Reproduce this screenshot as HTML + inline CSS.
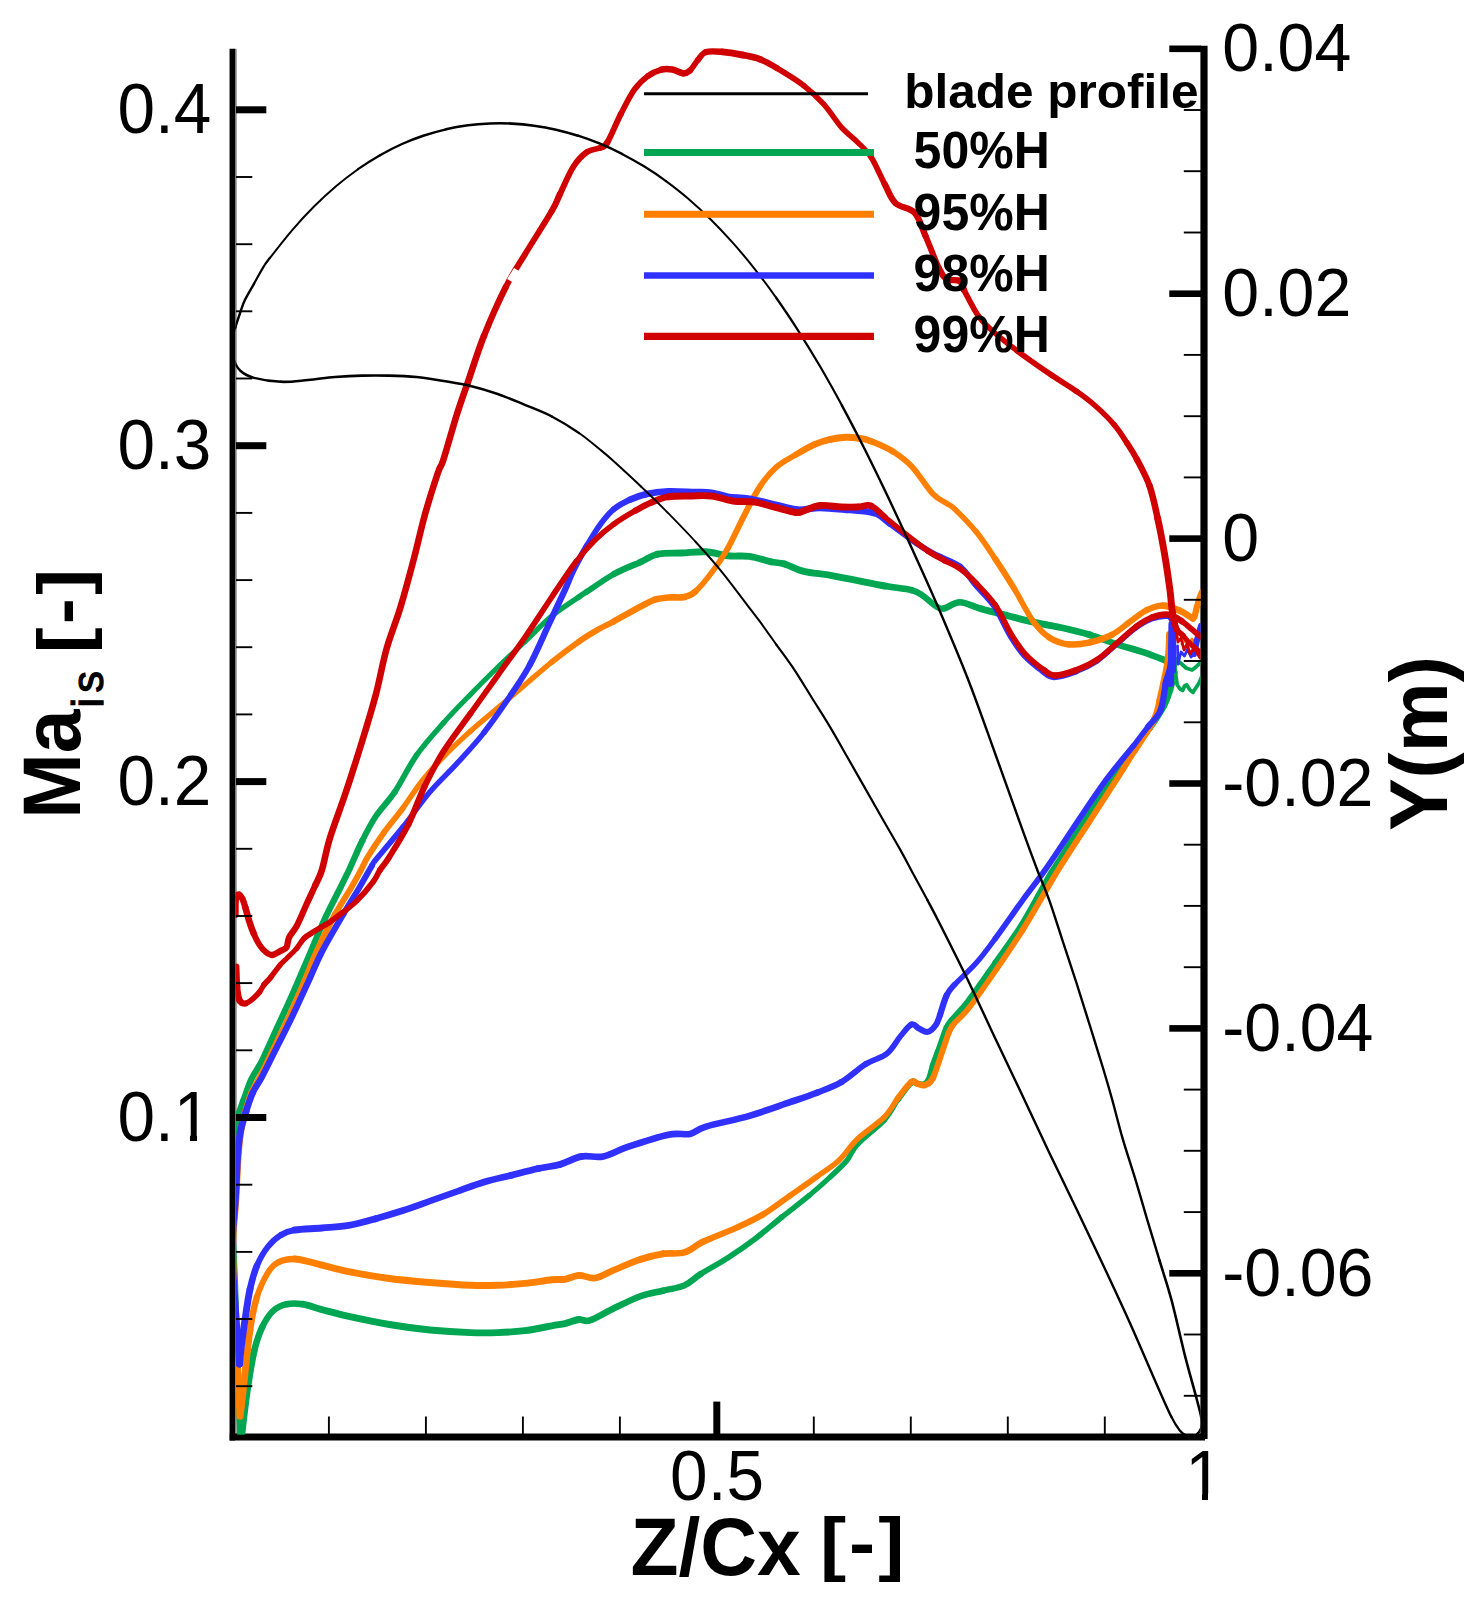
<!DOCTYPE html><html><head><meta charset="utf-8"><title>Isentropic Mach number</title>
<style>html,body{margin:0;padding:0;background:#fff}svg{display:block}text{font-family:"Liberation Sans",Arial,Helvetica,sans-serif;fill:#000}</style></head><body>
<svg width="1478" height="1606" viewBox="0 0 1478 1606">
<rect width="1478" height="1606" fill="#fff"/>
<defs><clipPath id="cp"><rect x="235.4" y="40" width="965.2" height="1394.5"/></clipPath></defs>
<g stroke="#000" fill="none">
<path d="M235.7 48.8V1435.0" stroke-width="2" stroke="#858585"/>
<path d="M232.3 48.8V1440.4" stroke-width="5.5"/>
<path d="M1204.0 45.7V1439.0" stroke-width="7.2"/>
<path d="M229.7 1437.0H1205.0" stroke-width="6.8"/>
</g>
<g clip-path="url(#cp)" fill="none" stroke-linejoin="round" stroke-linecap="round">
<path d="M232.0 1230.0C232.1 1223.3 232.2 1203.3 232.5 1190.0C232.8 1176.7 233.5 1159.9 234.0 1150.0C234.5 1140.1 234.9 1136.1 235.6 1130.6C236.2 1125.1 236.6 1122.0 237.9 1117.0" stroke="#00A651" stroke-width="6.9"/>
<path d="M237.9 1117.0C239.2 1112.0 241.1 1107.2 243.3 1100.9" stroke="#00A651" stroke-width="6.6"/>
<path d="M243.3 1100.9C245.6 1094.6 248.2 1086.0 251.4 1079.2C254.6 1072.4 258.1 1068.4 262.2 1060.3C266.3 1052.2 270.8 1041.3 275.8 1030.5C280.8 1019.7 286.6 1007.5 292.0 995.3C297.4 983.1 302.9 970.0 308.3 957.4C313.7 944.8 319.1 931.2 324.5 919.5C329.9 907.8 336.4 895.6 340.7 887.0C344.9 878.4 346.4 875.8 350.0 868.0C353.6 860.2 358.1 849.1 362.4 840.5" stroke="#00A651" stroke-width="6.3"/>
<path d="M362.4 840.5C366.7 831.9 370.5 824.3 375.9 816.2C381.3 808.1 388.1 801.9 394.9 791.8" stroke="#00A651" stroke-width="6.0"/>
<path d="M394.9 791.8C401.7 781.6 408.4 766.8 416.5 755.3" stroke="#00A651" stroke-width="5.7"/>
<path d="M416.5 755.3C424.6 743.8 434.6 732.9 443.6 722.8" stroke="#00A651" stroke-width="5.4"/>
<path d="M443.6 722.8C452.6 712.6 461.6 703.6 470.6 694.4C479.6 685.1 488.7 676.1 497.7 667.3C506.7 658.5 515.8 650.1 524.8 641.6" stroke="#00A651" stroke-width="5.1"/>
<path d="M524.8 641.6C533.8 633.1 542.8 623.4 551.8 616.0C560.8 608.6 573.0 601.1 578.9 597.0" stroke="#00A651" stroke-width="5.4"/>
<path d="M578.9 597.0C584.8 592.9 581.1 595.4 587.0 591.6" stroke="#00A651" stroke-width="5.7"/>
<path d="M587.0 591.6C592.9 587.8 605.0 579.0 614.0 574.0" stroke="#00A651" stroke-width="6.0"/>
<path d="M614.0 574.0C623.0 569.0 633.8 565.1 641.0 561.8" stroke="#00A651" stroke-width="6.3"/>
<path d="M641.0 561.8C648.2 558.5 650.6 555.7 657.4 554.2" stroke="#00A651" stroke-width="6.6"/>
<path d="M657.4 554.2C664.2 552.7 673.7 553.4 681.8 553.0C689.9 552.6 698.3 551.3 706.0 551.8C713.7 552.3 720.6 555.0 727.8 555.8C735.0 556.6 742.2 555.4 749.4 556.4C756.6 557.4 765.1 560.5 771.0 561.8" stroke="#00A651" stroke-width="6.9"/>
<path d="M771.0 561.8C776.9 563.1 779.2 562.4 784.6 564.0" stroke="#00A651" stroke-width="6.6"/>
<path d="M784.6 564.0C790.0 565.6 795.9 569.4 803.6 571.3C811.3 573.2 821.6 573.7 830.6 575.3C839.6 576.9 848.7 578.9 857.7 580.7C866.7 582.5 875.8 584.4 884.8 586.0" stroke="#00A651" stroke-width="6.9"/>
<path d="M884.8 586.0C893.8 587.6 905.5 588.6 911.8 590.2" stroke="#00A651" stroke-width="6.6"/>
<path d="M911.8 590.2C918.1 591.8 918.6 592.9 922.7 595.6C926.8 598.3 932.6 604.3 936.2 606.4C939.8 608.5 940.3 609.0 944.3 608.3" stroke="#00A651" stroke-width="6.3"/>
<path d="M944.3 608.3C948.3 607.6 953.8 602.1 960.0 602.2C966.2 602.3 973.7 606.7 981.8 609.0" stroke="#00A651" stroke-width="6.6"/>
<path d="M981.8 609.0C989.9 611.3 999.8 613.7 1008.8 616.0C1017.8 618.3 1026.9 620.7 1035.9 622.7C1044.9 624.7 1054.0 626.0 1063.0 628.0C1072.0 630.0 1081.0 632.2 1090.0 634.9" stroke="#00A651" stroke-width="6.9"/>
<path d="M1090.0 634.9C1099.0 637.6 1108.0 641.4 1117.0 644.3C1126.0 647.2 1135.9 649.7 1144.0 652.4C1152.1 655.1 1162.2 659.2 1165.8 660.6" stroke="#00A651" stroke-width="6.6"/>
<path d="M1165.8 660.6L1175.4 659.6" stroke="#00A651" stroke-width="6.4"/>
<path d="M1175.4 659.6L1181.0 663.4L1186.0 668.0L1192.0 670.0L1196.0 667.0L1199.6 663.4L1202.0 660.0" stroke="#00A651" stroke-width="3.8"/>
<path d="M1175.0 662.0L1175.4 672.7L1177.2 684.8L1180.0 689.0L1182.8 690.4L1184.5 686.0L1186.6 684.8L1190.0 690.0L1193.0 692.3L1196.5 687.0L1199.6 682.0L1202.0 676.0" stroke="#00A651" stroke-width="3.8"/>
<path d="M1174.4 672.7C1173.7 675.6 1171.7 684.5 1170.0 690.0" stroke="#00A651" stroke-width="6.6"/>
<path d="M1170.0 690.0C1168.3 695.5 1167.3 699.7 1164.0 706.0" stroke="#00A651" stroke-width="6.3"/>
<path d="M1164.0 706.0C1160.7 712.3 1155.2 720.6 1150.0 728.0" stroke="#00A651" stroke-width="6.0"/>
<path d="M1150.0 728.0C1144.8 735.4 1139.4 741.7 1133.0 750.5C1126.6 759.3 1119.9 769.1 1111.7 781.0C1103.5 792.9 1093.4 807.4 1084.0 821.6" stroke="#00A651" stroke-width="5.7"/>
<path d="M1084.0 821.6C1074.6 835.8 1061.6 856.4 1055.5 866.0C1049.4 875.6 1053.0 869.4 1047.5 879.0C1042.0 888.6 1031.1 909.6 1022.4 923.6C1013.7 937.6 1004.3 949.9 995.3 962.8" stroke="#00A651" stroke-width="6.0"/>
<path d="M995.3 962.8C986.3 975.6 975.5 991.2 968.3 1000.7C961.1 1010.2 955.6 1015.2 952.0 1019.7" stroke="#00A651" stroke-width="5.7"/>
<path d="M952.0 1019.7C948.4 1024.2 948.9 1022.4 946.6 1027.8" stroke="#00A651" stroke-width="6.0"/>
<path d="M946.6 1027.8C944.3 1033.2 940.3 1045.7 938.0 1052.0" stroke="#00A651" stroke-width="6.3"/>
<path d="M938.0 1052.0C935.7 1058.3 934.5 1061.2 933.0 1065.7" stroke="#00A651" stroke-width="6.6"/>
<path d="M933.0 1065.7C931.5 1070.2 930.5 1075.9 929.0 1079.0C927.5 1082.1 926.0 1083.8 924.0 1084.5C922.0 1085.2 919.1 1083.8 917.0 1083.5C914.9 1083.2 914.6 1079.8 911.4 1082.5" stroke="#00A651" stroke-width="6.3"/>
<path d="M911.4 1082.5C908.2 1085.2 902.4 1093.3 897.9 1099.5" stroke="#00A651" stroke-width="6.0"/>
<path d="M897.9 1099.5C893.4 1105.7 891.1 1112.4 884.4 1119.8" stroke="#00A651" stroke-width="5.4"/>
<path d="M884.4 1119.8C877.7 1127.2 864.0 1137.2 857.7 1144.0" stroke="#00A651" stroke-width="5.7"/>
<path d="M857.7 1144.0C851.5 1150.8 851.4 1155.0 846.9 1160.4C842.4 1165.8 836.9 1170.7 830.6 1176.6" stroke="#00A651" stroke-width="5.4"/>
<path d="M830.6 1176.6C824.3 1182.5 817.1 1188.9 809.0 1195.6" stroke="#00A651" stroke-width="5.1"/>
<path d="M809.0 1195.6C800.9 1202.3 791.0 1209.8 782.0 1217.0" stroke="#00A651" stroke-width="5.4"/>
<path d="M782.0 1217.0C773.0 1224.2 763.9 1232.1 754.9 1238.9C745.9 1245.7 736.8 1252.0 727.8 1257.8C718.8 1263.6 707.9 1269.4 700.7 1274.0" stroke="#00A651" stroke-width="5.7"/>
<path d="M700.7 1274.0C693.5 1278.6 690.8 1282.5 684.5 1285.3C678.2 1288.1 670.0 1288.9 662.8 1290.7" stroke="#00A651" stroke-width="6.3"/>
<path d="M662.8 1290.7C655.5 1292.5 649.1 1293.1 641.0 1296.0C632.9 1298.9 622.5 1304.2 614.0 1308.3C605.5 1312.4 595.6 1318.5 589.8 1320.4C583.9 1322.3 583.0 1319.0 578.9 1319.5" stroke="#00A651" stroke-width="6.6"/>
<path d="M578.9 1319.5C574.8 1320.0 569.5 1322.5 565.0 1323.6C560.5 1324.6 558.5 1324.6 551.8 1325.8C545.1 1327.0 533.8 1329.6 524.8 1330.7C515.8 1331.8 506.7 1332.3 497.7 1332.6C488.7 1332.9 481.9 1333.0 470.6 1332.6C459.3 1332.2 443.5 1331.3 430.0 1330.0C416.5 1328.7 402.9 1326.8 389.4 1324.5C375.9 1322.2 360.1 1318.9 348.8 1316.4C337.5 1313.9 329.5 1311.6 321.8 1309.6C314.1 1307.6 308.7 1305.1 302.8 1304.2" stroke="#00A651" stroke-width="6.9"/>
<path d="M302.8 1304.2C296.9 1303.3 291.6 1303.1 286.6 1304.2" stroke="#00A651" stroke-width="6.6"/>
<path d="M286.6 1304.2C281.6 1305.3 277.1 1307.2 273.0 1311.0C268.9 1314.8 265.4 1320.4 262.2 1327.2" stroke="#00A651" stroke-width="6.3"/>
<path d="M262.2 1327.2C259.0 1334.0 256.5 1341.2 254.0 1351.6" stroke="#00A651" stroke-width="6.6"/>
<path d="M254.0 1351.6C251.5 1362.0 249.4 1375.9 247.4 1389.4C245.4 1402.9 243.1 1423.4 242.0 1432.7C240.9 1442.0 241.2 1443.0 241.0 1445.0" stroke="#00A651" stroke-width="6.9"/>
<path d="M241.0 1445.0C240.8 1439.5 240.3 1425.8 239.7 1412.0C239.1 1398.2 238.0 1383.7 237.2 1362.0C236.3 1340.3 235.5 1304.0 234.6 1282.0C233.7 1260.0 232.4 1238.7 232.0 1230.0" stroke="#00A651" stroke-width="6.9"/>
<path d="M232.5 1245.0C232.7 1242.2 232.9 1235.5 233.5 1228.0C234.1 1220.5 235.2 1208.8 235.8 1200.0C236.4 1191.2 236.7 1183.0 237.1 1175.0C237.5 1167.0 237.8 1159.7 238.4 1152.3C239.0 1144.9 239.7 1137.4 240.9 1130.6C242.1 1123.8 243.7 1118.0 245.5 1111.7" stroke="#FF7F00" stroke-width="6.9"/>
<path d="M245.5 1111.7C247.3 1105.4 249.1 1098.6 251.5 1092.7" stroke="#FF7F00" stroke-width="6.6"/>
<path d="M251.5 1092.7C253.9 1086.8 256.6 1083.7 260.2 1076.5C263.8 1069.3 268.5 1059.3 273.3 1049.4C278.1 1039.5 283.8 1028.3 289.0 1017.0C294.2 1005.7 299.7 992.6 304.3 981.8C308.9 971.0 311.2 963.3 316.4 952.0C321.6 940.7 329.4 924.8 335.3 914.0" stroke="#FF7F00" stroke-width="6.3"/>
<path d="M335.3 914.0C341.2 903.2 347.3 894.3 351.6 887.0C355.9 879.7 358.3 875.0 361.0 870.0C363.7 865.0 364.0 863.1 367.8 856.8C371.6 850.5 378.1 840.5 384.0 832.4" stroke="#FF7F00" stroke-width="6.0"/>
<path d="M384.0 832.4C389.9 824.3 396.7 816.6 403.0 808.0" stroke="#FF7F00" stroke-width="5.7"/>
<path d="M403.0 808.0C409.3 799.4 415.2 789.6 422.0 781.0C428.8 772.4 435.5 764.9 443.6 756.6" stroke="#FF7F00" stroke-width="5.4"/>
<path d="M443.6 756.6C451.7 748.3 461.6 739.1 470.6 731.0" stroke="#FF7F00" stroke-width="5.1"/>
<path d="M470.6 731.0C479.6 722.9 488.7 715.7 497.7 708.0C506.7 700.3 515.8 692.7 524.8 685.0C533.8 677.3 542.8 669.2 551.8 662.0" stroke="#FF7F00" stroke-width="5.4"/>
<path d="M551.8 662.0C560.8 654.8 570.9 647.2 578.9 641.6" stroke="#FF7F00" stroke-width="5.7"/>
<path d="M578.9 641.6C586.9 636.0 594.1 631.9 600.0 628.5C605.9 625.1 607.2 625.0 614.0 621.3" stroke="#FF7F00" stroke-width="6.0"/>
<path d="M614.0 621.3C620.8 617.6 634.2 610.0 641.0 606.4C647.8 602.8 650.2 601.2 654.7 599.7" stroke="#FF7F00" stroke-width="6.3"/>
<path d="M654.7 599.7C659.2 598.2 663.3 598.0 668.3 597.5C673.3 597.0 680.0 598.0 684.5 597.0" stroke="#FF7F00" stroke-width="6.6"/>
<path d="M684.5 597.0C689.0 596.0 690.8 595.7 695.3 591.6" stroke="#FF7F00" stroke-width="6.3"/>
<path d="M695.3 591.6C699.8 587.5 706.2 579.8 711.6 572.6C717.0 565.4 722.4 557.8 727.8 548.3" stroke="#FF7F00" stroke-width="5.7"/>
<path d="M727.8 548.3C733.2 538.8 738.6 526.2 744.0 515.8C749.4 505.4 754.9 494.1 760.3 486.0" stroke="#FF7F00" stroke-width="6.0"/>
<path d="M760.3 486.0C765.7 477.9 770.6 472.2 776.5 467.0C782.4 461.8 789.2 458.6 795.5 454.9" stroke="#FF7F00" stroke-width="5.7"/>
<path d="M795.5 454.9C801.8 451.1 808.5 447.1 814.4 444.5" stroke="#FF7F00" stroke-width="6.3"/>
<path d="M814.4 444.5C820.2 441.9 825.4 440.5 830.6 439.3" stroke="#FF7F00" stroke-width="6.6"/>
<path d="M830.6 439.3C835.8 438.1 840.6 437.5 845.5 437.3C850.4 437.1 855.8 437.8 860.0 438.4" stroke="#FF7F00" stroke-width="6.9"/>
<path d="M860.0 438.4C864.2 439.0 865.5 439.0 871.0 441.2" stroke="#FF7F00" stroke-width="6.6"/>
<path d="M871.0 441.2C876.5 443.4 886.1 447.3 892.9 451.5" stroke="#FF7F00" stroke-width="6.3"/>
<path d="M892.9 451.5C899.7 455.7 905.1 459.4 911.8 466.5C918.5 473.6 927.1 487.8 933.0 494.0C938.9 500.2 943.4 501.1 947.0 503.6" stroke="#FF7F00" stroke-width="5.7"/>
<path d="M947.0 503.6C950.6 506.1 949.8 504.3 954.7 509.0C959.6 513.7 969.6 523.7 976.4 532.0" stroke="#FF7F00" stroke-width="5.4"/>
<path d="M976.4 532.0C983.2 540.3 989.0 549.5 995.3 559.0" stroke="#FF7F00" stroke-width="5.7"/>
<path d="M995.3 559.0C1001.6 568.5 1008.0 578.4 1014.3 588.8" stroke="#FF7F00" stroke-width="6.0"/>
<path d="M1014.3 588.8C1020.6 599.2 1027.3 613.2 1033.2 621.3" stroke="#FF7F00" stroke-width="5.7"/>
<path d="M1033.2 621.3C1039.1 629.4 1043.5 633.8 1049.4 637.6" stroke="#FF7F00" stroke-width="6.0"/>
<path d="M1049.4 637.6C1055.3 641.4 1061.6 643.5 1068.4 644.3" stroke="#FF7F00" stroke-width="6.3"/>
<path d="M1068.4 644.3C1075.2 645.1 1082.8 644.0 1090.0 642.4" stroke="#FF7F00" stroke-width="6.6"/>
<path d="M1090.0 642.4C1097.2 640.8 1104.9 638.4 1111.7 634.9" stroke="#FF7F00" stroke-width="6.3"/>
<path d="M1111.7 634.9C1118.5 631.4 1124.7 625.4 1130.6 621.3C1136.5 617.1 1141.5 612.6 1146.9 610.0" stroke="#FF7F00" stroke-width="6.0"/>
<path d="M1146.9 610.0C1152.3 607.4 1157.6 605.5 1163.0 605.6" stroke="#FF7F00" stroke-width="6.3"/>
<path d="M1163.0 605.6C1168.4 605.7 1174.3 608.3 1179.3 610.5" stroke="#FF7F00" stroke-width="6.6"/>
<path d="M1179.3 610.5C1184.3 612.7 1190.6 617.2 1192.9 618.6" stroke="#FF7F00" stroke-width="6.3"/>
<path d="M1192.9 618.6L1194.5 617.0L1196.8 607.3L1199.6 598.0L1202.0 592.0" stroke="#FF7F00" stroke-width="6.3"/>
<path d="M1169.5 634.4C1169.4 636.9 1169.4 644.3 1169.0 649.4C1168.6 654.5 1168.1 660.1 1167.3 665.2C1166.5 670.3 1165.6 674.1 1164.3 680.0C1163.0 685.9 1161.4 694.0 1159.7 700.7" stroke="#FF7F00" stroke-width="6.9"/>
<path d="M1159.7 700.7C1158.0 707.4 1158.2 711.6 1154.0 720.0" stroke="#FF7F00" stroke-width="6.6"/>
<path d="M1154.0 720.0C1149.8 728.4 1140.9 740.8 1134.5 751.0" stroke="#FF7F00" stroke-width="6.3"/>
<path d="M1134.5 751.0C1128.1 761.2 1123.4 768.8 1115.6 781.0C1107.8 793.2 1096.9 810.0 1087.6 824.3C1078.3 838.6 1066.6 856.5 1060.0 867.0C1053.4 877.5 1054.3 876.4 1048.0 887.0C1041.7 897.6 1031.2 916.4 1022.4 930.4" stroke="#FF7F00" stroke-width="6.0"/>
<path d="M1022.4 930.4C1013.6 944.4 1004.3 957.9 995.3 971.0C986.3 984.1 975.5 999.6 968.3 1008.8C961.1 1018.0 956.1 1020.1 952.0 1026.4" stroke="#FF7F00" stroke-width="5.7"/>
<path d="M952.0 1026.4C947.9 1032.7 947.1 1038.1 943.9 1046.7C940.7 1055.3 936.1 1071.5 933.0 1077.9" stroke="#FF7F00" stroke-width="6.0"/>
<path d="M933.0 1077.9C929.9 1084.3 927.5 1084.0 925.0 1085.0C922.5 1086.0 920.3 1084.5 918.0 1084.0C915.7 1083.5 914.8 1079.7 911.4 1082.0" stroke="#FF7F00" stroke-width="6.3"/>
<path d="M911.4 1082.0C908.0 1084.3 902.4 1092.2 897.9 1098.0" stroke="#FF7F00" stroke-width="6.0"/>
<path d="M897.9 1098.0C893.4 1103.8 891.1 1110.2 884.4 1117.0C877.7 1123.8 865.3 1131.6 857.7 1138.8C850.1 1146.0 845.6 1154.1 838.8 1160.4C832.0 1166.7 825.1 1170.7 817.0 1176.6" stroke="#FF7F00" stroke-width="5.4"/>
<path d="M817.0 1176.6C808.9 1182.5 799.0 1189.3 790.0 1195.6" stroke="#FF7F00" stroke-width="5.7"/>
<path d="M790.0 1195.6C781.0 1201.9 772.0 1209.1 763.0 1214.5" stroke="#FF7F00" stroke-width="6.0"/>
<path d="M763.0 1214.5C754.0 1219.9 745.8 1223.5 735.9 1228.0C726.0 1232.5 712.0 1237.5 703.4 1241.6" stroke="#FF7F00" stroke-width="6.3"/>
<path d="M703.4 1241.6C694.8 1245.7 691.3 1250.4 684.5 1252.4C677.7 1254.4 670.0 1252.7 662.8 1253.8" stroke="#FF7F00" stroke-width="6.6"/>
<path d="M662.8 1253.8C655.5 1254.9 649.1 1256.5 641.0 1259.2" stroke="#FF7F00" stroke-width="6.9"/>
<path d="M641.0 1259.2C632.9 1261.9 621.6 1266.9 614.0 1270.0C606.4 1273.1 601.0 1277.1 595.2 1278.0C589.4 1278.9 584.0 1275.2 579.0 1275.4" stroke="#FF7F00" stroke-width="6.6"/>
<path d="M579.0 1275.4C574.0 1275.6 569.5 1278.6 565.0 1279.3C560.5 1280.0 558.5 1279.1 551.8 1279.8C545.1 1280.5 533.8 1282.5 524.8 1283.4C515.8 1284.3 506.7 1285.0 497.7 1285.3C488.7 1285.6 481.9 1285.8 470.6 1285.3C459.3 1284.8 443.5 1283.6 430.0 1282.5C416.5 1281.4 402.9 1280.3 389.4 1278.5C375.9 1276.7 361.0 1274.2 348.8 1271.7C336.6 1269.2 325.4 1265.7 316.4 1263.6C307.4 1261.5 301.0 1259.2 294.7 1259.0" stroke="#FF7F00" stroke-width="6.9"/>
<path d="M294.7 1259.0C288.4 1258.8 283.0 1259.9 278.5 1262.2" stroke="#FF7F00" stroke-width="6.3"/>
<path d="M278.5 1262.2C274.0 1264.5 271.3 1267.1 267.7 1273.0C264.1 1278.9 259.8 1287.9 256.8 1297.4" stroke="#FF7F00" stroke-width="6.0"/>
<path d="M256.8 1297.4C253.9 1306.9 252.0 1316.9 250.0 1330.0" stroke="#FF7F00" stroke-width="6.6"/>
<path d="M250.0 1330.0C248.0 1343.1 246.1 1363.5 244.7 1376.0C243.3 1388.5 242.3 1398.3 241.5 1405.0C240.7 1411.7 240.2 1414.2 240.0 1416.0" stroke="#FF7F00" stroke-width="6.9"/>
<path d="M240.0 1416.0C239.8 1413.0 239.4 1405.3 239.0 1398.0C238.6 1390.7 238.2 1385.0 237.6 1372.0C237.0 1359.0 236.3 1337.8 235.5 1320.0C234.7 1302.2 233.5 1277.5 233.0 1265.0C232.5 1252.5 232.6 1248.3 232.5 1245.0" stroke="#FF7F00" stroke-width="6.9"/>
<path d="M1182.0 644.0L1185.0 640.0L1188.0 645.0L1192.0 639.0L1196.0 643.0L1200.0 636.0" stroke="#FF7F00" stroke-width="2.8"/>
<path d="M232.0 1245.0C232.2 1242.2 232.4 1235.5 233.0 1228.0C233.6 1220.5 234.7 1208.8 235.3 1200.0C235.9 1191.2 236.2 1183.0 236.6 1175.0C237.0 1167.0 237.2 1159.7 237.9 1152.3C238.6 1144.9 239.2 1137.4 240.6 1130.6C241.9 1123.8 244.0 1118.0 246.0 1111.7" stroke="#3030FF" stroke-width="6.9"/>
<path d="M246.0 1111.7C248.0 1105.4 250.1 1098.6 252.8 1092.7" stroke="#3030FF" stroke-width="6.6"/>
<path d="M252.8 1092.7C255.5 1086.8 258.4 1083.7 262.2 1076.5C266.0 1069.3 270.8 1059.3 275.8 1049.4C280.8 1039.5 286.6 1028.3 292.0 1017.0C297.4 1005.7 303.3 992.6 308.3 981.8C313.3 971.0 316.0 963.3 321.8 952.0C327.6 940.7 337.1 924.8 343.4 914.0" stroke="#3030FF" stroke-width="6.3"/>
<path d="M343.4 914.0C349.7 903.2 354.9 895.1 359.7 887.0C364.5 878.9 369.3 870.1 372.0 865.5" stroke="#3030FF" stroke-width="6.0"/>
<path d="M372.0 865.5C374.7 860.9 370.8 865.9 376.0 859.5C381.2 853.1 394.0 838.3 403.0 827.0" stroke="#3030FF" stroke-width="5.7"/>
<path d="M403.0 827.0C412.0 815.7 421.0 802.4 430.0 791.8C439.0 781.2 448.0 773.3 457.0 763.4C466.0 753.5 475.2 743.8 484.2 732.3" stroke="#3030FF" stroke-width="5.4"/>
<path d="M484.2 732.3C493.2 720.8 503.6 705.7 511.2 694.4" stroke="#3030FF" stroke-width="5.7"/>
<path d="M511.2 694.4C518.8 683.1 523.7 676.3 530.0 664.6" stroke="#3030FF" stroke-width="6.0"/>
<path d="M530.0 664.6C536.3 652.9 543.1 636.6 549.0 624.0C554.9 611.4 561.3 597.8 565.4 588.8C569.5 579.8 569.9 577.2 573.5 570.0C577.1 562.8 582.5 553.2 587.0 545.5" stroke="#3030FF" stroke-width="6.3"/>
<path d="M587.0 545.5C591.5 537.8 596.1 530.1 600.6 524.0C605.1 517.9 609.0 513.1 614.0 509.0" stroke="#3030FF" stroke-width="5.7"/>
<path d="M614.0 509.0C619.0 504.9 625.0 502.0 630.4 499.5" stroke="#3030FF" stroke-width="6.0"/>
<path d="M630.4 499.5C635.8 497.0 640.3 495.4 646.6 494.0" stroke="#3030FF" stroke-width="6.6"/>
<path d="M646.6 494.0C652.9 492.6 660.2 491.7 668.3 491.4C676.4 491.1 688.1 492.0 695.3 492.2C702.5 492.4 706.2 492.0 711.6 492.8C717.0 493.6 721.5 495.8 727.8 496.8C734.1 497.8 741.3 497.6 749.4 499.0C757.5 500.4 768.4 503.2 776.5 505.0C784.6 506.8 790.8 509.4 798.0 509.8C805.2 510.2 811.6 507.7 819.8 507.7C827.9 507.7 837.9 508.9 846.9 509.8" stroke="#3030FF" stroke-width="6.9"/>
<path d="M846.9 509.8C855.9 510.7 866.8 510.6 874.0 513.0" stroke="#3030FF" stroke-width="6.6"/>
<path d="M874.0 513.0C881.2 515.4 883.7 519.5 890.0 524.0" stroke="#3030FF" stroke-width="6.0"/>
<path d="M890.0 524.0C896.3 528.5 904.5 535.0 911.8 540.0" stroke="#3030FF" stroke-width="5.7"/>
<path d="M911.8 540.0C919.0 545.0 925.5 549.3 933.5 553.7C941.5 558.1 953.0 561.3 960.0 566.5" stroke="#3030FF" stroke-width="6.0"/>
<path d="M960.0 566.5C967.0 571.7 969.7 578.2 975.4 584.9C981.1 591.6 988.4 597.9 994.3 606.5C1000.2 615.1 1005.6 628.3 1010.6 636.4C1015.6 644.5 1018.6 649.4 1024.0 655.3C1029.4 661.1 1038.0 667.9 1043.0 671.5" stroke="#3030FF" stroke-width="5.7"/>
<path d="M1043.0 671.5C1048.0 675.1 1048.5 677.0 1053.9 677.0" stroke="#3030FF" stroke-width="6.0"/>
<path d="M1053.9 677.0C1059.3 677.0 1068.3 674.2 1075.5 671.5" stroke="#3030FF" stroke-width="6.3"/>
<path d="M1075.5 671.5C1082.7 668.8 1090.2 665.2 1097.0 660.7" stroke="#3030FF" stroke-width="6.0"/>
<path d="M1097.0 660.7C1103.8 656.2 1109.7 649.9 1116.0 644.5C1122.3 639.1 1129.1 632.5 1135.0 628.2" stroke="#3030FF" stroke-width="5.7"/>
<path d="M1135.0 628.2C1140.9 623.9 1145.9 620.8 1151.3 618.8C1156.7 616.8 1164.0 615.9 1167.5 616.1C1171.0 616.3 1171.2 619.4 1172.0 620.0" stroke="#3030FF" stroke-width="6.0"/>
<path d="M1175.0 626.7C1174.6 628.1 1173.3 628.6 1172.6 634.9C1171.9 641.2 1172.1 656.5 1171.0 664.6C1169.9 672.7 1167.6 675.9 1165.8 683.6" stroke="#3030FF" stroke-width="6.9"/>
<path d="M1165.8 683.6C1164.0 691.3 1163.4 703.4 1160.4 710.6" stroke="#3030FF" stroke-width="6.3"/>
<path d="M1160.4 710.6C1157.4 717.8 1152.4 721.0 1147.9 726.9" stroke="#3030FF" stroke-width="6.0"/>
<path d="M1147.9 726.9C1143.4 732.8 1140.3 737.2 1133.5 745.8" stroke="#3030FF" stroke-width="5.4"/>
<path d="M1133.5 745.8C1126.7 754.4 1116.3 766.1 1107.3 778.3C1098.3 790.5 1089.4 803.9 1079.3 818.9C1069.2 833.9 1056.0 854.4 1046.5 868.0C1037.0 881.6 1030.9 888.9 1022.4 900.6C1013.9 912.4 1003.0 928.1 995.3 938.5" stroke="#3030FF" stroke-width="5.7"/>
<path d="M995.3 938.5C987.6 948.9 983.2 955.1 976.4 962.8C969.6 970.5 959.7 979.1 954.7 984.5" stroke="#3030FF" stroke-width="5.4"/>
<path d="M954.7 984.5C949.7 989.9 949.1 990.2 946.6 995.3" stroke="#3030FF" stroke-width="5.7"/>
<path d="M946.6 995.3C944.1 1000.4 941.8 1010.0 940.0 1015.0" stroke="#3030FF" stroke-width="6.3"/>
<path d="M940.0 1015.0C938.2 1020.0 937.8 1022.2 935.8 1025.0C933.8 1027.8 930.5 1031.3 927.7 1031.9C924.9 1032.5 921.7 1029.7 919.0 1028.5C916.3 1027.3 914.5 1023.2 911.4 1024.5" stroke="#3030FF" stroke-width="6.0"/>
<path d="M911.4 1024.5C908.3 1025.8 904.7 1031.2 900.6 1036.0C896.5 1040.8 892.8 1048.8 887.0 1053.5C881.2 1058.2 873.4 1059.2 865.8 1064.0" stroke="#3030FF" stroke-width="5.7"/>
<path d="M865.8 1064.0C858.2 1068.8 849.6 1077.2 841.5 1082.0" stroke="#3030FF" stroke-width="6.0"/>
<path d="M841.5 1082.0C833.4 1086.8 825.6 1089.3 817.0 1092.7" stroke="#3030FF" stroke-width="6.3"/>
<path d="M817.0 1092.7C808.4 1096.1 801.3 1098.4 790.0 1102.2C778.7 1106.0 763.4 1111.7 749.4 1115.8C735.4 1119.9 715.9 1123.6 706.0 1126.6C696.1 1129.6 696.3 1132.6 690.0 1133.9C683.7 1135.2 678.7 1132.5 668.3 1134.7C657.9 1136.9 638.5 1143.3 627.7 1146.9C616.9 1150.5 611.0 1154.8 603.3 1156.4C595.6 1158.0 588.9 1155.1 581.7 1156.4" stroke="#3030FF" stroke-width="6.6"/>
<path d="M581.7 1156.4C574.5 1157.8 567.2 1162.5 560.0 1164.5" stroke="#3030FF" stroke-width="6.9"/>
<path d="M560.0 1164.5C552.8 1166.5 546.4 1166.7 538.3 1168.5" stroke="#3030FF" stroke-width="6.6"/>
<path d="M538.3 1168.5C530.2 1170.3 520.2 1173.0 511.2 1175.3" stroke="#3030FF" stroke-width="6.9"/>
<path d="M511.2 1175.3C502.2 1177.5 493.2 1179.3 484.2 1182.0C475.2 1184.7 466.0 1188.3 457.0 1191.5C448.0 1194.7 439.0 1197.8 430.0 1201.0C421.0 1204.2 412.0 1207.6 403.0 1210.5C394.0 1213.4 385.0 1216.1 376.0 1218.6" stroke="#3030FF" stroke-width="6.6"/>
<path d="M376.0 1218.6C367.0 1221.1 357.8 1223.8 348.8 1225.4C339.8 1227.0 330.8 1227.2 321.8 1228.0C312.8 1228.8 301.5 1228.9 294.7 1230.0" stroke="#3030FF" stroke-width="6.9"/>
<path d="M294.7 1230.0C287.9 1231.1 285.7 1232.0 281.2 1234.8" stroke="#3030FF" stroke-width="6.3"/>
<path d="M281.2 1234.8C276.7 1237.6 271.8 1241.8 267.7 1247.0C263.6 1252.2 259.8 1259.0 256.8 1266.0" stroke="#3030FF" stroke-width="6.0"/>
<path d="M256.8 1266.0C253.9 1273.0 252.0 1280.0 250.0 1289.3" stroke="#3030FF" stroke-width="6.6"/>
<path d="M250.0 1289.3C248.0 1298.6 246.1 1312.5 244.7 1321.8C243.3 1331.1 242.4 1338.0 241.5 1345.0C240.6 1352.0 239.8 1360.8 239.5 1364.0" stroke="#3030FF" stroke-width="6.9"/>
<path d="M239.5 1364.0C239.2 1360.8 238.5 1351.5 238.0 1345.0C237.5 1338.5 237.1 1333.3 236.5 1325.0C235.9 1316.7 235.2 1305.0 234.5 1295.0C233.8 1285.0 232.9 1273.3 232.5 1265.0C232.1 1256.7 232.1 1248.3 232.0 1245.0" stroke="#3030FF" stroke-width="6.9"/>
<path d="M1171.5 624.0L1170.8 684.0" stroke="#3030FF" stroke-width="6.2"/>
<path d="M1175.0 632.0L1174.5 672.0" stroke="#3030FF" stroke-width="2.8"/>
<path d="M1177.5 646.0L1178.0 664.0" stroke="#3030FF" stroke-width="2.8"/>
<path d="M1178.0 664.0L1181.0 652.0L1184.5 656.0L1187.5 649.4L1191.0 657.0L1194.0 654.0" stroke="#3030FF" stroke-width="2.8"/>
<path d="M1194.0 654.0L1197.0 640.0L1201.0 626.0" stroke="#3030FF" stroke-width="6.2"/>
<path d="M235.5 914.8C235.6 912.0 235.4 901.4 236.0 898.0" stroke="#D00000" stroke-width="6.3"/>
<path d="M236.0 898.0C236.6 894.6 237.7 894.1 238.8 894.3C239.9 894.5 241.4 896.8 242.5 899.0" stroke="#D00000" stroke-width="6.0"/>
<path d="M242.5 899.0C243.6 901.2 244.2 903.8 245.3 907.4" stroke="#D00000" stroke-width="6.3"/>
<path d="M245.3 907.4C246.4 911.0 247.6 916.0 249.0 920.4C250.4 924.8 252.0 929.5 253.7 933.5" stroke="#D00000" stroke-width="6.6"/>
<path d="M253.7 933.5C255.4 937.5 257.3 941.6 259.3 944.7C261.3 947.8 263.7 950.5 265.9 952.2C268.1 953.9 270.1 955.2 272.4 955.0" stroke="#D00000" stroke-width="6.0"/>
<path d="M272.4 955.0C274.7 954.8 277.6 952.5 279.9 951.2C282.2 950.0 284.8 949.8 286.4 947.5C287.9 945.2 287.5 940.8 289.2 937.2C290.9 933.6 293.9 931.3 296.7 926.0C299.5 920.7 302.9 912.3 306.0 905.5C309.1 898.7 312.8 890.9 315.4 885.0" stroke="#D00000" stroke-width="6.3"/>
<path d="M315.4 885.0C318.0 879.1 319.5 877.9 321.9 870.0C324.3 862.1 326.0 850.8 330.0 837.8C334.0 824.8 340.6 808.0 346.0 791.8C351.4 775.6 357.4 756.6 362.4 740.4C367.4 724.2 371.8 709.7 375.9 694.4C379.9 679.1 382.6 662.8 386.7 648.4C390.8 634.0 395.8 622.7 400.3 607.8C404.8 592.9 409.8 574.3 413.8 559.0C417.9 543.7 420.6 530.2 424.6 515.8C428.6 501.4 434.9 481.8 438.0 472.5C441.1 463.2 440.1 469.8 443.3 460.0C446.5 450.2 452.9 427.0 457.0 414.0C461.1 401.0 463.5 394.8 468.0 381.8C472.5 368.8 477.7 351.6 484.0 335.8" stroke="#D00000" stroke-width="6.6"/>
<path d="M484.0 335.8C490.3 320.0 499.0 300.5 505.8 287.0" stroke="#D00000" stroke-width="6.3"/>
<path d="M505.8 287.0C512.6 273.5 517.1 267.3 524.8 254.6C532.5 241.9 545.9 221.1 551.8 211.0" stroke="#D00000" stroke-width="6.0"/>
<path d="M551.8 211.0C557.7 200.9 556.4 201.4 560.0 194.0" stroke="#D00000" stroke-width="6.3"/>
<path d="M560.0 194.0C563.6 186.6 569.0 173.5 573.5 166.5C578.0 159.5 582.5 155.1 587.0 152.0" stroke="#D00000" stroke-width="6.0"/>
<path d="M587.0 152.0C591.5 148.9 597.2 149.3 600.6 147.7" stroke="#D00000" stroke-width="5.7"/>
<path d="M600.6 147.7C604.0 146.1 604.0 147.9 607.4 142.3" stroke="#D00000" stroke-width="6.3"/>
<path d="M607.4 142.3C610.8 136.7 616.4 122.7 620.9 113.9" stroke="#D00000" stroke-width="6.0"/>
<path d="M620.9 113.9C625.4 105.1 629.9 95.8 634.4 89.5C638.9 83.2 643.5 79.3 648.0 76.0" stroke="#D00000" stroke-width="5.7"/>
<path d="M648.0 76.0C652.5 72.7 657.5 70.7 661.5 69.6" stroke="#D00000" stroke-width="6.0"/>
<path d="M661.5 69.6C665.5 68.5 668.7 68.9 672.3 69.5C675.9 70.1 680.2 73.1 683.1 73.3" stroke="#D00000" stroke-width="6.6"/>
<path d="M683.1 73.3C686.0 73.5 687.4 72.8 689.9 70.6" stroke="#D00000" stroke-width="6.3"/>
<path d="M689.9 70.6C692.4 68.3 695.3 62.9 698.0 59.8" stroke="#D00000" stroke-width="5.7"/>
<path d="M698.0 59.8C700.7 56.7 702.0 53.3 706.1 52.0" stroke="#D00000" stroke-width="6.0"/>
<path d="M706.1 52.0C710.2 50.7 716.3 51.4 722.4 51.9" stroke="#D00000" stroke-width="6.3"/>
<path d="M722.4 51.9C728.5 52.4 736.4 53.8 742.7 55.0" stroke="#D00000" stroke-width="6.9"/>
<path d="M742.7 55.0C749.0 56.2 754.4 57.1 760.0 59.3" stroke="#D00000" stroke-width="6.6"/>
<path d="M760.0 59.3C765.6 61.4 769.2 63.5 776.5 67.9" stroke="#D00000" stroke-width="6.3"/>
<path d="M776.5 67.9C783.8 72.3 795.7 79.4 803.6 85.5" stroke="#D00000" stroke-width="5.7"/>
<path d="M803.6 85.5C811.5 91.6 817.6 97.4 823.9 104.4C830.2 111.4 835.9 121.1 841.5 127.4C847.1 133.7 852.8 137.3 857.7 142.3C862.7 147.3 866.7 150.2 871.2 157.2" stroke="#D00000" stroke-width="5.4"/>
<path d="M871.2 157.2C875.7 164.2 880.7 176.6 884.8 184.3" stroke="#D00000" stroke-width="5.7"/>
<path d="M884.8 184.3C888.9 192.0 890.6 198.5 895.6 203.2C900.6 207.9 909.5 207.3 914.5 212.7C919.5 218.1 921.3 226.4 925.4 235.7" stroke="#D00000" stroke-width="6.3"/>
<path d="M925.4 235.7C929.5 244.9 935.3 261.0 938.9 268.2" stroke="#D00000" stroke-width="6.0"/>
<path d="M938.9 268.2C942.5 275.4 943.5 276.9 947.0 279.0C950.5 281.1 957.2 279.2 960.0 281.0" stroke="#D00000" stroke-width="6.3"/>
<path d="M960.0 281.0C962.8 282.8 960.8 284.0 964.0 290.0" stroke="#D00000" stroke-width="6.6"/>
<path d="M964.0 290.0C967.2 296.0 973.8 309.7 979.0 316.9" stroke="#D00000" stroke-width="5.7"/>
<path d="M979.0 316.9C984.2 324.1 988.7 327.4 995.0 333.0C1001.3 338.6 1007.9 343.9 1017.0 350.7" stroke="#D00000" stroke-width="5.4"/>
<path d="M1017.0 350.7C1026.1 357.5 1039.5 366.9 1049.4 373.7C1059.3 380.5 1068.8 385.9 1076.5 391.3" stroke="#D00000" stroke-width="5.7"/>
<path d="M1076.5 391.3C1084.2 396.7 1089.2 400.4 1095.5 406.0C1101.8 411.6 1109.2 418.8 1114.4 425.0" stroke="#D00000" stroke-width="5.4"/>
<path d="M1114.4 425.0C1119.7 431.2 1123.2 437.2 1127.0 443.0" stroke="#D00000" stroke-width="5.7"/>
<path d="M1127.0 443.0C1130.8 448.8 1133.2 452.3 1137.0 459.5" stroke="#D00000" stroke-width="6.0"/>
<path d="M1137.0 459.5C1140.8 466.7 1146.1 476.2 1149.6 486.0" stroke="#D00000" stroke-width="6.3"/>
<path d="M1149.6 486.0C1153.0 495.8 1155.2 507.2 1157.7 518.5" stroke="#D00000" stroke-width="6.6"/>
<path d="M1157.7 518.5C1160.2 529.8 1162.5 542.0 1164.5 553.7C1166.5 565.4 1168.5 579.5 1169.8 588.7C1171.0 598.0 1171.2 603.6 1172.0 609.2C1172.8 614.8 1173.6 618.8 1174.4 622.3" stroke="#D00000" stroke-width="6.9"/>
<path d="M1174.4 622.3C1175.2 625.8 1175.6 627.8 1177.0 630.0" stroke="#D00000" stroke-width="6.3"/>
<path d="M1177.0 630.0C1178.4 632.2 1180.7 633.3 1182.8 635.4" stroke="#D00000" stroke-width="5.7"/>
<path d="M1182.8 635.4C1184.9 637.5 1186.9 640.3 1189.4 642.8" stroke="#D00000" stroke-width="5.1"/>
<path d="M1189.4 642.8C1191.9 645.3 1195.5 648.4 1197.8 650.3C1200.1 652.2 1202.1 653.4 1203.0 654.0" stroke="#D00000" stroke-width="5.4"/>
<path d="M236.0 967.0C236.2 970.3 236.3 981.1 236.9 986.7" stroke="#D00000" stroke-width="6.9"/>
<path d="M236.9 986.7C237.5 992.3 238.3 997.9 239.7 1000.7" stroke="#D00000" stroke-width="6.6"/>
<path d="M239.7 1000.7C241.1 1003.5 243.1 1003.8 245.3 1003.5" stroke="#D00000" stroke-width="6.3"/>
<path d="M245.3 1003.5C247.5 1003.2 250.5 1000.8 252.8 998.9C255.1 997.0 257.4 994.6 259.3 992.3" stroke="#D00000" stroke-width="5.7"/>
<path d="M259.3 992.3C261.2 989.9 262.1 987.3 264.0 984.8" stroke="#D00000" stroke-width="5.4"/>
<path d="M264.0 984.8C265.9 982.3 268.0 980.7 270.6 977.4" stroke="#D00000" stroke-width="5.7"/>
<path d="M270.6 977.4C273.2 974.1 277.1 968.5 279.9 965.2" stroke="#D00000" stroke-width="5.4"/>
<path d="M279.9 965.2C282.7 961.9 284.6 960.6 287.4 957.8C290.2 955.0 293.9 951.7 296.7 948.4" stroke="#D00000" stroke-width="5.1"/>
<path d="M296.7 948.4C299.5 945.1 301.1 941.2 304.2 938.2" stroke="#D00000" stroke-width="5.4"/>
<path d="M304.2 938.2C307.3 935.2 311.2 933.4 315.4 930.7C319.6 928.1 325.0 925.2 329.4 922.3C333.8 919.3 337.4 916.6 342.0 913.0" stroke="#D00000" stroke-width="5.7"/>
<path d="M342.0 913.0C346.6 909.4 351.8 905.8 357.0 900.6" stroke="#D00000" stroke-width="5.4"/>
<path d="M357.0 900.6C362.2 895.4 369.4 886.8 373.2 881.7C377.0 876.6 377.3 874.1 380.0 870.0" stroke="#D00000" stroke-width="5.7"/>
<path d="M380.0 870.0C382.7 865.9 384.7 864.4 389.4 856.8C394.1 849.2 402.5 836.0 408.4 824.3" stroke="#D00000" stroke-width="6.0"/>
<path d="M408.4 824.3C414.3 812.6 418.7 798.6 424.6 786.4" stroke="#D00000" stroke-width="6.3"/>
<path d="M424.6 786.4C430.5 774.2 435.9 763.4 443.6 751.2C451.3 739.0 461.6 725.9 470.6 713.3" stroke="#D00000" stroke-width="6.0"/>
<path d="M470.6 713.3C479.6 700.7 488.7 688.1 497.7 675.5C506.7 662.9 515.8 650.7 524.8 637.6C533.8 624.5 543.3 609.6 551.8 597.0C560.3 584.4 568.8 571.3 576.0 561.8" stroke="#D00000" stroke-width="5.7"/>
<path d="M576.0 561.8C583.2 552.3 588.7 546.3 595.0 540.0C601.3 533.7 607.2 528.9 614.0 524.0" stroke="#D00000" stroke-width="5.4"/>
<path d="M614.0 524.0C620.8 519.1 629.5 514.0 635.8 510.4" stroke="#D00000" stroke-width="5.7"/>
<path d="M635.8 510.4C642.1 506.8 646.6 504.5 652.0 502.2" stroke="#D00000" stroke-width="6.3"/>
<path d="M652.0 502.2C657.4 499.9 662.0 497.8 668.3 496.8" stroke="#D00000" stroke-width="6.6"/>
<path d="M668.3 496.8C674.6 495.8 682.8 496.1 690.0 496.0C697.2 495.9 704.4 495.2 711.6 496.0C718.8 496.8 725.8 500.0 733.0 501.0C740.2 502.0 747.6 501.1 754.9 502.2C762.1 503.3 769.7 506.0 776.5 507.7C783.3 509.4 791.0 511.9 795.5 512.5C800.0 513.0 799.6 512.2 803.6 511.0C807.6 509.8 813.5 506.2 819.8 505.5C826.1 504.8 835.2 506.8 841.5 507.0C847.8 507.2 852.8 507.2 857.7 507.0" stroke="#D00000" stroke-width="6.9"/>
<path d="M857.7 507.0C862.6 506.8 866.5 504.1 871.0 505.8" stroke="#D00000" stroke-width="6.6"/>
<path d="M871.0 505.8C875.5 507.5 878.9 512.2 884.8 517.0" stroke="#D00000" stroke-width="6.0"/>
<path d="M884.8 517.0C890.7 521.8 899.2 529.0 906.4 534.7" stroke="#D00000" stroke-width="5.4"/>
<path d="M906.4 534.7C913.6 540.4 921.7 546.7 928.0 551.0" stroke="#D00000" stroke-width="5.7"/>
<path d="M928.0 551.0C934.3 555.3 939.0 557.5 944.3 560.4" stroke="#D00000" stroke-width="6.0"/>
<path d="M944.3 560.4C949.6 563.3 954.6 564.8 960.0 568.6C965.4 572.4 970.5 577.3 976.4 583.4" stroke="#D00000" stroke-width="5.7"/>
<path d="M976.4 583.4C982.3 589.5 989.4 596.4 995.3 605.0" stroke="#D00000" stroke-width="5.4"/>
<path d="M995.3 605.0C1001.2 613.6 1006.6 626.8 1011.6 634.9C1016.6 643.0 1019.6 647.9 1025.0 653.8C1030.4 659.6 1039.0 666.4 1044.0 670.0" stroke="#D00000" stroke-width="5.7"/>
<path d="M1044.0 670.0C1049.0 673.6 1049.5 675.5 1054.9 675.5" stroke="#D00000" stroke-width="6.0"/>
<path d="M1054.9 675.5C1060.3 675.5 1069.3 672.7 1076.5 670.0" stroke="#D00000" stroke-width="6.3"/>
<path d="M1076.5 670.0C1083.7 667.3 1091.2 663.7 1098.0 659.2" stroke="#D00000" stroke-width="6.0"/>
<path d="M1098.0 659.2C1104.8 654.7 1110.7 648.4 1117.0 643.0C1123.3 637.6 1130.1 631.0 1136.0 626.7" stroke="#D00000" stroke-width="5.7"/>
<path d="M1136.0 626.7C1141.9 622.4 1146.9 619.3 1152.3 617.3" stroke="#D00000" stroke-width="6.0"/>
<path d="M1152.3 617.3C1157.7 615.3 1163.5 613.9 1168.5 614.6C1173.5 615.3 1177.0 617.9 1182.0 621.3" stroke="#D00000" stroke-width="6.3"/>
<path d="M1182.0 621.3C1187.0 624.7 1194.8 632.1 1198.3 634.9C1201.8 637.7 1202.2 637.5 1203.0 638.0" stroke="#D00000" stroke-width="5.7"/>
<path d="M1176.0 630.0L1178.0 642.0L1181.0 638.0L1184.0 650.0L1187.0 644.0L1190.0 654.0L1194.0 648.0L1200.0 658.0" stroke="#D00000" stroke-width="2.8"/>
<path d="M510.6 281L517.4 270" stroke="#fff" stroke-width="8" stroke-linecap="butt" transform="rotate(0)"/>
<path d="M231.0 345.0C231.2 343.5 231.8 338.9 232.5 336.0C233.2 333.1 233.8 331.8 235.2 327.7" stroke="#000" stroke-width="2.6"/>
<path d="M235.2 327.7C236.5 323.6 239.0 316.1 240.6 311.5C242.2 306.9 242.7 304.6 244.9 300.0C247.1 295.4 250.8 289.4 254.0 283.8" stroke="#000" stroke-width="2.4"/>
<path d="M254.0 283.8C257.1 278.2 261.1 270.7 263.8 266.4C266.5 262.1 265.3 263.8 270.0 257.8" stroke="#000" stroke-width="2.2"/>
<path d="M270.0 257.8C274.7 251.8 284.7 238.9 292.0 230.3C299.3 221.8 306.7 213.8 314.0 206.5C321.3 199.2 328.7 192.4 336.0 186.2C343.3 180.0 350.7 174.4 358.0 169.2" stroke="#000" stroke-width="2.0"/>
<path d="M358.0 169.2C365.3 164.0 372.7 159.4 380.0 155.2" stroke="#000" stroke-width="2.2"/>
<path d="M380.0 155.2C387.3 151.0 394.7 147.3 402.0 144.0C409.3 140.7 416.7 137.9 424.0 135.5C431.3 133.1 438.7 131.0 446.0 129.3" stroke="#000" stroke-width="2.4"/>
<path d="M446.0 129.3C453.3 127.6 460.7 126.3 468.0 125.3C475.3 124.3 482.7 123.8 490.0 123.5C497.3 123.2 504.7 123.2 512.0 123.6C519.3 124.0 526.7 124.7 534.0 125.7C541.3 126.7 548.7 128.0 556.0 129.7C563.3 131.4 570.7 133.4 578.0 135.7" stroke="#000" stroke-width="2.6"/>
<path d="M578.0 135.7C585.3 138.0 592.7 140.7 600.0 143.7C607.3 146.7 614.7 150.1 622.0 153.9" stroke="#000" stroke-width="2.4"/>
<path d="M622.0 153.9C629.3 157.7 636.7 161.8 644.0 166.3C651.3 170.8 658.7 175.7 666.0 181.1" stroke="#000" stroke-width="2.2"/>
<path d="M666.0 181.1C673.3 186.5 680.7 192.2 688.0 198.5C695.3 204.8 702.7 211.5 710.0 218.7C717.3 225.9 724.7 233.7 732.0 241.9C739.3 250.1 746.7 258.8 754.0 268.1C761.3 277.4 768.7 287.1 776.0 297.5" stroke="#000" stroke-width="2.0"/>
<path d="M776.0 297.5C783.3 307.9 790.7 318.8 798.0 330.3C805.3 341.8 812.7 353.8 820.0 366.3C827.3 378.9 834.7 392.0 842.0 405.6" stroke="#000" stroke-width="2.2"/>
<path d="M842.0 405.6C849.3 419.2 856.7 433.3 864.0 447.8C871.3 462.3 878.0 476.1 886.0 492.8C894.0 509.6 903.0 528.9 911.8 548.3C920.6 567.7 929.5 587.0 938.9 609.0C948.3 631.0 958.9 655.8 968.3 680.0C977.7 704.2 986.3 729.0 995.3 754.0C1004.3 779.0 1015.4 810.4 1022.4 829.7C1029.4 849.0 1032.8 858.2 1037.3 870.0C1041.8 881.8 1045.1 888.6 1049.4 900.6C1053.7 912.6 1058.5 928.3 1063.0 942.0C1067.5 955.7 1072.0 969.0 1076.5 983.0C1081.0 997.0 1085.5 1011.5 1090.0 1026.0C1094.5 1040.5 1099.9 1057.7 1103.6 1070.0C1107.3 1082.3 1109.2 1088.8 1112.3 1100.0C1115.4 1111.2 1118.6 1124.5 1122.3 1137.4C1126.0 1150.3 1130.5 1163.5 1134.7 1177.2C1138.9 1190.9 1143.1 1205.7 1147.2 1219.6C1151.3 1233.5 1155.5 1247.2 1159.6 1260.6" stroke="#000" stroke-width="2.4"/>
<path d="M1159.6 1260.6C1163.6 1274.0 1167.3 1284.3 1171.5 1300.0C1175.7 1315.7 1180.8 1339.2 1184.8 1355.0C1188.8 1370.8 1193.0 1385.1 1195.6 1394.9C1198.2 1404.7 1199.4 1409.0 1200.5 1413.8C1201.6 1418.6 1202.2 1421.0 1202.0 1424.0" stroke="#000" stroke-width="2.6"/>
<path d="M1202.0 1424.0C1201.8 1427.0 1200.5 1429.9 1199.0 1432.0C1197.5 1434.1 1195.2 1435.9 1193.0 1436.5" stroke="#000" stroke-width="2.4"/>
<path d="M1193.0 1436.5C1190.8 1437.1 1188.3 1436.6 1186.0 1435.5C1183.7 1434.4 1181.9 1433.2 1179.4 1430.0C1176.9 1426.8 1174.8 1423.7 1171.2 1416.5" stroke="#000" stroke-width="2.2"/>
<path d="M1171.2 1416.5C1167.6 1409.3 1164.5 1402.0 1157.7 1386.7C1150.9 1371.4 1139.6 1344.6 1130.6 1324.5C1121.6 1304.4 1112.6 1285.2 1103.6 1266.0C1094.6 1246.8 1085.5 1227.8 1076.5 1209.0C1067.5 1190.2 1058.4 1171.9 1049.4 1153.0C1040.4 1134.1 1031.4 1114.6 1022.4 1095.5C1013.4 1076.4 1004.3 1057.7 995.3 1038.6C986.3 1019.5 977.3 999.7 968.3 981.0C959.3 962.3 948.0 940.0 941.2 926.5C934.4 913.0 932.1 908.8 927.4 900.0" stroke="#000" stroke-width="2.4"/>
<path d="M927.4 900.0C922.7 891.2 917.6 882.1 913.0 873.5C908.4 864.9 904.7 857.6 899.5 848.4C894.3 839.1 887.8 828.2 882.0 818.0C876.2 807.8 870.4 797.6 864.6 787.4C858.8 777.1 852.8 766.7 847.0 756.5C841.2 746.3 835.5 736.1 829.7 726.4C823.9 716.6 817.8 707.3 812.0 698.0C806.2 688.7 800.8 679.5 794.9 670.6C789.0 661.7 782.3 652.9 776.5 644.8" stroke="#000" stroke-width="2.2"/>
<path d="M776.5 644.8C770.7 636.6 764.5 627.9 760.0 621.7C755.5 615.6 755.7 616.1 749.4 607.9C743.1 599.7 731.4 583.7 722.4 572.6C713.4 561.5 704.4 551.4 695.3 541.5" stroke="#000" stroke-width="2.0"/>
<path d="M695.3 541.5C686.2 531.6 677.0 522.2 668.0 513.0C659.0 503.8 650.0 495.1 641.0 486.5" stroke="#000" stroke-width="1.8"/>
<path d="M641.0 486.5C632.0 477.9 620.8 467.7 614.0 461.5C607.2 455.3 605.8 454.2 600.0 449.5C594.2 444.8 587.0 438.5 579.0 433.0" stroke="#000" stroke-width="2.0"/>
<path d="M579.0 433.0C571.0 427.5 560.8 421.2 551.8 416.5" stroke="#000" stroke-width="2.2"/>
<path d="M551.8 416.5C542.8 411.8 533.8 408.6 524.8 404.8C515.8 401.1 506.7 397.1 497.7 394.0C488.7 390.9 479.6 388.2 470.6 386.0" stroke="#000" stroke-width="2.4"/>
<path d="M470.6 386.0C461.6 383.8 452.6 382.5 443.6 381.0C434.6 379.5 425.6 377.9 416.5 377.0C407.4 376.1 398.1 375.8 389.0 375.6C379.9 375.4 371.0 375.4 362.0 375.6C353.0 375.8 344.0 376.3 335.0 377.0C326.0 377.7 317.0 379.2 308.0 380.0C299.0 380.8 290.0 382.2 281.0 381.8" stroke="#000" stroke-width="2.6"/>
<path d="M281.0 381.8C272.0 381.4 260.7 379.6 254.0 377.8C247.3 376.0 244.0 374.0 240.6 371.0C237.2 368.0 235.4 364.3 233.8 360.0C232.2 355.7 231.5 347.5 231.0 345.0" stroke="#000" stroke-width="2.4"/>
</g>
<g stroke="#000" fill="none">
<path d="M236 109.8H266.3" stroke-width="7"/>
<path d="M236 445.7H266.3" stroke-width="7"/>
<path d="M236 781.6H266.3" stroke-width="7"/>
<path d="M236 1117.5H266.3" stroke-width="7"/>
<path d="M236 177.0H252.3" stroke-width="1.9"/>
<path d="M236 244.2H252.3" stroke-width="1.9"/>
<path d="M236 311.3H252.3" stroke-width="1.9"/>
<path d="M236 378.5H252.3" stroke-width="1.9"/>
<path d="M236 512.9H252.3" stroke-width="1.9"/>
<path d="M236 580.1H252.3" stroke-width="1.9"/>
<path d="M236 647.2H252.3" stroke-width="1.9"/>
<path d="M236 714.4H252.3" stroke-width="1.9"/>
<path d="M236 848.8H252.3" stroke-width="1.9"/>
<path d="M236 916.0H252.3" stroke-width="1.9"/>
<path d="M236 983.1H252.3" stroke-width="1.9"/>
<path d="M236 1050.3H252.3" stroke-width="1.9"/>
<path d="M236 1184.7H252.3" stroke-width="1.9"/>
<path d="M236 1251.9H252.3" stroke-width="1.9"/>
<path d="M236 1319.0H252.3" stroke-width="1.9"/>
<path d="M236 1386.2H252.3" stroke-width="1.9"/>
<path d="M1169.3 48.8H1201" stroke-width="6.6"/>
<path d="M1169.3 293.7H1201" stroke-width="6.6"/>
<path d="M1169.3 538.6H1201" stroke-width="6.6"/>
<path d="M1169.3 783.5H1201" stroke-width="6.6"/>
<path d="M1169.3 1028.4H1201" stroke-width="6.6"/>
<path d="M1169.3 1273.3H1201" stroke-width="6.6"/>
<path d="M1183.8 110.0H1201" stroke-width="1.9"/>
<path d="M1183.8 171.2H1201" stroke-width="1.9"/>
<path d="M1183.8 232.5H1201" stroke-width="1.9"/>
<path d="M1183.8 354.9H1201" stroke-width="1.9"/>
<path d="M1183.8 416.2H1201" stroke-width="1.9"/>
<path d="M1183.8 477.4H1201" stroke-width="1.9"/>
<path d="M1183.8 599.8H1201" stroke-width="1.9"/>
<path d="M1183.8 661.0H1201" stroke-width="1.9"/>
<path d="M1183.8 722.3H1201" stroke-width="1.9"/>
<path d="M1183.8 844.7H1201" stroke-width="1.9"/>
<path d="M1183.8 905.9H1201" stroke-width="1.9"/>
<path d="M1183.8 967.2H1201" stroke-width="1.9"/>
<path d="M1183.8 1089.6H1201" stroke-width="1.9"/>
<path d="M1183.8 1150.8H1201" stroke-width="1.9"/>
<path d="M1183.8 1212.1H1201" stroke-width="1.9"/>
<path d="M1183.8 1334.5H1201" stroke-width="1.9"/>
<path d="M1183.8 1395.8H1201" stroke-width="1.9"/>
<path d="M328.9 1416.5V1434" stroke-width="1.9"/>
<path d="M425.9 1416.5V1434" stroke-width="1.9"/>
<path d="M522.9 1416.5V1434" stroke-width="1.9"/>
<path d="M619.9 1416.5V1434" stroke-width="1.9"/>
<path d="M716.8 1401.6V1434" stroke-width="7"/>
<path d="M813.8 1416.5V1434" stroke-width="1.9"/>
<path d="M910.8 1416.5V1434" stroke-width="1.9"/>
<path d="M1007.8 1416.5V1434" stroke-width="1.9"/>
<path d="M1104.8 1416.5V1434" stroke-width="1.9"/>
</g>
<g fill="none">
<path d="M644 93.8H868" stroke="#000" stroke-width="3"/>
<path d="M644 152.4H874" stroke="#00A651" stroke-width="7"/>
<path d="M644 214.3H874" stroke="#FF7F00" stroke-width="7"/>
<path d="M644 275.5H874" stroke="#3030FF" stroke-width="6.4"/>
<path d="M644 336.3H874" stroke="#D00000" stroke-width="7.2"/>
</g>
<text transform="translate(904.2 107.9) scale(1 0.975)" font-size="49.5px" font-weight="bold">blade profile</text>
<text transform="translate(913.6 168.2) scale(1 1.025)" font-size="50.0px" font-weight="bold">50%H</text>
<text transform="translate(913.6 229.7) scale(1 1.025)" font-size="50.0px" font-weight="bold">95%H</text>
<text transform="translate(913.6 291.4) scale(1 1.025)" font-size="50.0px" font-weight="bold">98%H</text>
<text transform="translate(913.6 352.2) scale(1 1.025)" font-size="50.0px" font-weight="bold">99%H</text>
<text transform="translate(211.4 133.3) scale(1 1.040)" font-size="67.5px" text-anchor="end">0.4</text>
<text transform="translate(211.4 469.2) scale(1 1.040)" font-size="67.5px" text-anchor="end">0.3</text>
<text transform="translate(211.4 805.1) scale(1 1.040)" font-size="67.5px" text-anchor="end">0.2</text>
<text transform="translate(211.4 1141.0) scale(1 1.040)" font-size="67.5px" text-anchor="end">0.1</text>
<text transform="translate(1222.3 71.1) scale(1 1.040)" font-size="66.3px">0.04</text>
<text transform="translate(1222.3 316.0) scale(1 1.040)" font-size="66.3px">0.02</text>
<text transform="translate(1222.3 560.9) scale(1 1.040)" font-size="66.3px">0</text>
<text transform="translate(1222.3 805.8) scale(1 1.040)" font-size="66.3px">-0.02</text>
<text transform="translate(1222.3 1050.7) scale(1 1.040)" font-size="66.3px">-0.04</text>
<text transform="translate(1222.3 1295.6) scale(1 1.040)" font-size="66.3px">-0.06</text>
<text transform="translate(717.0 1500.2) scale(1 1.040)" font-size="67.5px" text-anchor="middle">0.5</text>
<text transform="translate(1204.1 1500.2) scale(1 1.040)" font-size="67.5px" text-anchor="middle">1</text>
<path d="M1186 1493.4H1202V1501.5H1186ZM1208 1493.4H1223V1501.5H1208Z" fill="#fff"/>
<path d="M176 1134.4H190V1142.5H176ZM197 1134.4H211V1142.5H197Z" fill="#fff"/>
<text transform="translate(630.5 1574.8) scale(1 1.040)" font-size="78.6px" font-weight="bold">Z/Cx</text>
<text transform="translate(819.9 1567.1) scale(1 0.887)" font-size="78.6px" font-weight="bold" letter-spacing="3">[-]</text>
<text transform="translate(79.9 818.8) rotate(-90) scale(1 1.040)" font-size="78.6px" font-weight="bold">Ma</text>
<text transform="translate(103.1 707.5) rotate(-90) scale(1 1.040)" font-size="43.5px" letter-spacing="5" stroke="#000" stroke-width="1.2">is</text>
<text transform="translate(87.3 653.4) rotate(-90) scale(1 0.887)" font-size="78.6px" font-weight="bold" letter-spacing="3">[-]</text>
<text transform="translate(1446.6 830.8) rotate(-90) scale(1 1.040)" font-size="78.6px" font-weight="bold">Y(m)</text>
</svg></body></html>
